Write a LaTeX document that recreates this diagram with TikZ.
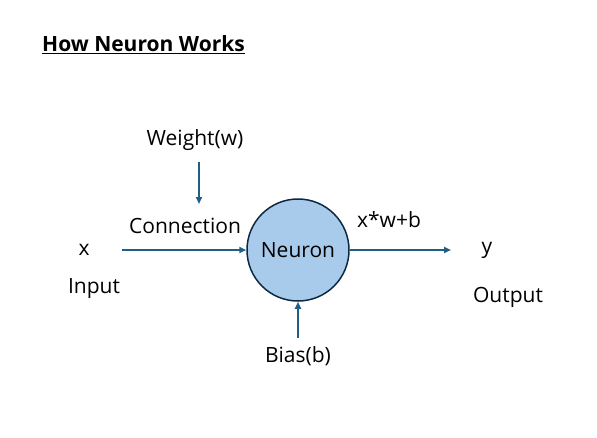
\documentclass[tikz,border=0pt]{standalone}
\usepackage{fontspec}
\setmainfont{Open Sans}
\usepackage{tikz}
\usetikzlibrary{arrows.meta, positioning}
\definecolor{arrowblue}{HTML}{1F5F85}
\definecolor{neuronfill}{HTML}{A8CBEC}
\definecolor{neuronline}{HTML}{0E2841}

\begin{document}
\begin{tikzpicture}[
  x=1pt, y=-1pt,
  lbl/.style={inner sep=0pt, font=\fontsize{21}{24}\selectfont},
  neuronbox/.style={
    circle, draw=neuronline, fill=neuronfill, line width=1.5pt,
    minimum size=102pt, inner sep=0pt, font=\fontsize{21}{24}\selectfont
  },
  arr/.style={-{Triangle[length=7pt, width=6pt]}, line width=1.8pt, arrowblue}
]
  \useasboundingbox (0,0) rectangle (597,437);

  \node[lbl, anchor=west, font=\fontsize{21}{24}\selectfont\bfseries] (title) at (42,45) {\underline{How Neuron Works}};

  \node[neuronbox] (neuron) at (298,250) {Neuron};
  \node[lbl] (weight) at (195,140) {Weight(w)};
  \node[lbl] (connection) at (185,226) {Connection};
  \node[lbl] (x) at (84,250) {x};
  \node[lbl] (input) at (94,289) {Input};
  \node[lbl] (formula) at (389,220) {x*w+b};
  \node[lbl] (y) at (487,250) {y};
  \node[lbl] (output) at (508,297) {Output};
  \node[lbl] (bias) at (298,356) {Bias(b)};

  \coordinate (wtop) at (199,162);
  \coordinate (wbot) at (199,204);
  \coordinate (xin) at (122,250);
  \coordinate (yout) at (451,250);
  \coordinate (bstart) at (298,338);

  \draw[arr] (wtop) -- (wbot);
  \draw[arr] (xin) -- (neuron);
  \draw[arr] (neuron) -- (yout);
  \draw[arr] (bstart) -- (neuron);
\end{tikzpicture}
\end{document}
